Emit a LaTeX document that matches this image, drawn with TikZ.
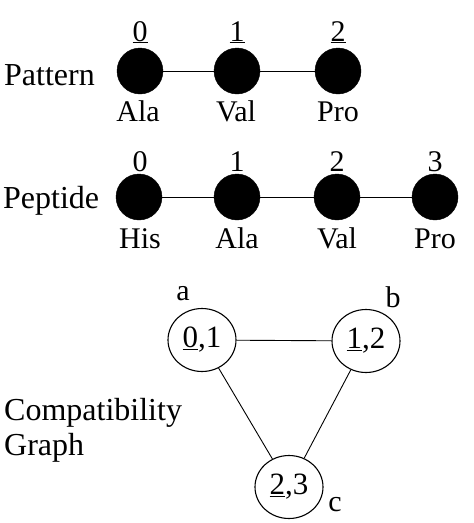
\documentclass[tikz,border=0pt]{standalone}
\usepackage{fontspec}
\setmainfont{Liberation Serif}
\usetikzlibrary{shapes.geometric}
\begin{document}
\begin{tikzpicture}[x=1pt,y=-1pt,
  dot/.style={circle,fill=black,draw=black,minimum size=46pt,inner sep=0pt},
  lbl/.style={anchor=base,inner sep=0pt,font=\fontsize{30}{34}\selectfont},
  big/.style={anchor=base west,inner sep=0pt,font=\fontsize{32}{36}\selectfont},
  gnode/.style={ellipse,draw,line width=1.1pt,minimum width=68pt,minimum height=63pt,inner sep=0pt,font=\fontsize{31}{34}\selectfont},
  link/.style={line width=0.9pt}]
\useasboundingbox[fill=white] (0,0) rectangle (474,523);
% Pattern
\node[big] (pat) at (4,85) {Pattern};
\node[dot] (p0) at (140,71) {};
\node[dot] (p1) at (237,71) {};
\node[dot] (p2) at (338,71) {};
\draw[link] (p0) -- (p1);
\draw[link] (p1) -- (p2);
\node[lbl] (pn0) at (140,41) {\underline{0}};
\node[lbl] (pn1) at (237,41) {\underline{1}};
\node[lbl] (pn2) at (338,41) {\underline{2}};
\node[lbl] (pl0) at (138,121) {Ala};
\node[lbl] (pl1) at (236,121) {Val};
\node[lbl] (pl2) at (338,121) {Pro};
% Peptide
\node[big] (pep) at (3,208) {Peptide};
\node[dot] (q0) at (139,197) {};
\node[dot] (q1) at (237,197) {};
\node[dot] (q2) at (337,197) {};
\node[dot] (q3) at (435,197) {};
\draw[link] (q0) -- (q1);
\draw[link] (q1) -- (q2);
\draw[link] (q2) -- (q3);
\node[lbl] (qn0) at (140,171) {0};
\node[lbl] (qn1) at (237,171) {1};
\node[lbl] (qn2) at (337,171) {2};
\node[lbl] (qn3) at (435,171) {3};
\node[lbl] (ql0) at (140,248) {His};
\node[lbl] (ql1) at (237,248) {Ala};
\node[lbl] (ql2) at (337,248) {Val};
\node[lbl] (ql3) at (435,248) {Pro};
% Compatibility graph
\node[big] (cg1) at (4,420) {Compatibility};
\node[big] (cg2) at (4,455) {Graph};
\node[gnode] (a) at (202,340) {\underline{0},1};
\node[gnode] (b) at (366,341) {\underline{1},2};
\node[gnode] (c) at (289,487) {\underline{2},3};
\draw[link] (a) -- (b);
\draw[link] (a) -- (c);
\draw[link] (b) -- (c);
\node[lbl] (la) at (183,300) {a};
\node[lbl] (lb) at (393,307) {b};
\node[lbl] (lc) at (335,511) {c};
\end{tikzpicture}
\end{document}
